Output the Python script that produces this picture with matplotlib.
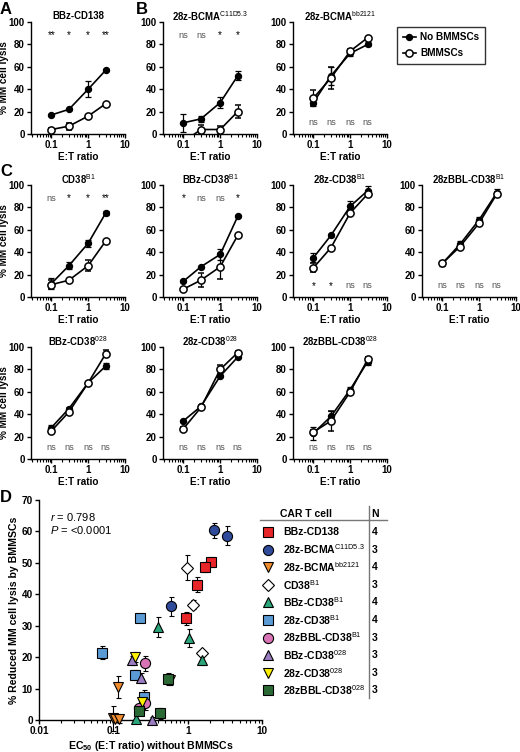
import matplotlib.pyplot as plt
from matplotlib.lines import Line2D
from matplotlib.ticker import FixedLocator, LogLocator, NullFormatter

plt.rcParams['font.family'] = ['Liberation Sans', 'DejaVu Sans']
plt.rcParams['mathtext.fontset'] = 'custom'
plt.rcParams['mathtext.rm'] = 'Liberation Sans'
plt.rcParams['mathtext.it'] = 'Liberation Sans:italic'
plt.rcParams['mathtext.bf'] = 'Liberation Sans:bold'

# ---- data ----
et_ratio = [0.1, 0.3, 1, 3]

car_names = ['BBz-CD138', r'28z-BCMA$^{\mathrm{C11D5.3}}$', r'28z-BCMA$^{\mathrm{bb2121}}$',
             r'CD38$^{\mathrm{B1}}$', r'BBz-CD38$^{\mathrm{B1}}$', r'28z-CD38$^{\mathrm{B1}}$',
             r'28zBBL-CD38$^{\mathrm{B1}}$', r'BBz-CD38$^{\mathrm{028}}$',
             r'28z-CD38$^{\mathrm{028}}$', r'28zBBL-CD38$^{\mathrm{028}}$']
car_n = [4, 3, 4, 3, 4, 4, 3, 3, 3, 3]

sig_labels = [['**', '*', '*', '**'], ['ns', 'ns', '*', '*'], ['ns'] * 4,
              ['ns', '*', '*', '**'], ['*', 'ns', 'ns', '*'], ['*', '*', 'ns', 'ns'],
              ['ns'] * 4, ['ns'] * 4, ['ns'] * 4, ['ns'] * 4]

# % MM cell lysis, no BMMSCs
no_bm = [[17, 22, 40, 57], [10, 13.5, 28, 52], [28, 52, 72, 80],
         [12, 28, 48, 75], [14, 27, 38, 72], [35, 55, 81, 95],
         [30, 47, 69, 93], [28, 45, 68, 83], [34, 47, 74, 91], [23, 38, 62, 87]]
no_bm_err = [[1, 1, 7, 1], [8, 3, 5, 4], [3, 8, 2, 1],
             [5, 3, 3, 2], [1, 1, 5, 1], [4, 1, 5, 4],
             [2, 3, 2, 3], [2, 1, 1, 3], [1, 1, 1, 1], [6, 5, 2, 3]]
# % MM cell lysis, with BMMSCs
with_bm = [[4, 7, 16, 27], [-7, 4, 4, 20], [32, 50, 74, 86],
           [11, 15, 28, 50], [7, 15, 27, 55], [26, 44, 75, 92],
           [30, 45, 66, 92], [25, 42, 68, 94], [27, 46, 80, 95], [24, 34, 60, 89]]
with_bm_err = [[1, 3, 1, 1], [2, 4, 3, 6], [7, 10, 2, 1],
               [4, 1, 5, 1], [1, 6, 11, 1], [4, 1, 3, 1],
               [1, 2, 1, 1], [2, 1, 1, 3], [2, 1, 4, 1], [2, 9, 2, 2]]

# panel D: EC50 without BMMSCs vs % reduced lysis
ec50 = [[2.09, 1.70, 1.35, 0.94], [2.27, 3.35, 0.60], [0.116, 0.098, 0.105, 0.118],
        [0.97, 1.17, 1.56], [0.40, 1.03, 1.56, 0.20], [0.23, 0.071, 0.198, 0.256],
        [0.27, 0.265, 0.22], [0.179, 0.237, 0.33], [0.194, 0.577, 0.244],
        [0.54, 0.22, 0.42]]
reduction = [[50.3, 48.7, 43.1, 32.3], [60.3, 58.7, 36.2], [10.4, 0.5, 0.3, 0.2],
             [48.4, 36.7, 21.4], [29.6, 26.1, 19.0, 0.2], [32.3, 21.4, 14.3, 7.4],
             [18.0, 5.3, 3.7], [19.0, 13.4, 0.0], [20.1, 12.7, 5.6],
             [13.0, 3.0, 2.1]]
reduction_err = [[1.5, 1.5, 2.5, 2], [2.5, 3, 3], [3.5, 4, 1, 1],
                 [4, 1.5, 1], [3.2, 3, 1.5, 1], [1, 2, 1.5, 2],
                 [2.5, 2, 1.5], [1.5, 1.5, 1], [1.5, 1.5, 1.5],
                 [2, 1.5, 1.8]]

# ---- styles ----
car_colors = ['#E8262A', '#2F4B9A', '#F08C2E', 'white', '#2BA57A', '#5B9BD5',
              '#D873B5', '#9A7CC0', '#FFF000', '#2C6A35']
car_markers = ['s', 'o', 'v', 'D', '^', 's', 'o', '^', 'v', 's']

W, H = 520, 752
fig = plt.figure(figsize=(W / 100, H / 100), dpi=100)


def px_axes(left, top, width, height):
    return fig.add_axes([left / W, 1 - (top + height) / H, width / W, height / H])


def style_axes(ax, fs=7):
    for s in ['top', 'right']:
        ax.spines[s].set_visible(False)
    for s in ['left', 'bottom']:
        ax.spines[s].set_linewidth(1.0)
    ax.tick_params(which='major', length=3, width=1, labelsize=fs, pad=1.5)
    ax.tick_params(which='minor', length=1.8, width=0.8)
    for lab in ax.get_xticklabels() + ax.get_yticklabels():
        lab.set_fontweight('bold')


# ---- panels A-C: lysis curves ----
col_x = [31, 163, 293, 422]
row_top = [22, 185, 347]
panel_pos = [(0, 0), (1, 0), (2, 0), (0, 1), (1, 1), (2, 1), (3, 1), (0, 2), (1, 2), (2, 2)]
sig_y = [88, 88, 10, 88, 88, 10, 10, 10, 10, 10]

for i, (c, r) in enumerate(panel_pos):
    ax = px_axes(col_x[c], row_top[r], 94, 112)
    ax.set_xscale('log')
    ax.errorbar(et_ratio, no_bm[i], yerr=no_bm_err[i], fmt='-o', color='black',
                mfc='black', mec='black', ms=4.3, lw=1.2, elinewidth=0.9,
                capsize=2, capthick=0.9, zorder=3)
    ax.errorbar(et_ratio, with_bm[i], yerr=with_bm_err[i], fmt='-o', color='black',
                mfc='white', mec='black', ms=5.2, mew=1.1, lw=1.2, elinewidth=0.9,
                capsize=2, capthick=0.9, zorder=4)
    ax.set_xlim(0.028, 10)
    ax.set_ylim(0, 100)
    ax.set_yticks([0, 20, 40, 60, 80, 100])
    ax.xaxis.set_major_locator(FixedLocator([0.1, 1, 10]))
    ax.set_xticklabels(['0.1', '1', '10'])
    ax.xaxis.set_minor_locator(LogLocator(base=10, subs=range(2, 10)))
    ax.xaxis.set_minor_formatter(NullFormatter())
    style_axes(ax)
    ax.set_xlabel('E:T ratio', fontsize=7.2, fontweight='bold', labelpad=1)
    if c == 0:
        ax.set_ylabel('% MM cell lysis', fontsize=7.2, fontweight='bold', labelpad=0)
    ax.text(0.5, 1.05, car_names[i], transform=ax.transAxes, ha='center', va='center',
            fontsize=6.9, fontweight='bold')
    for x, lab in zip(et_ratio, sig_labels[i]):
        ax.text(x, sig_y[i], lab, ha='center', va='center',
                fontsize=6.6 if lab == 'ns' else 7.2,
                color='#555555' if lab == 'ns' else 'black')

legend_handles = [
    Line2D([], [], color='black', marker='o', mfc='black', mec='black', ms=4.3, lw=1.2),
    Line2D([], [], color='black', marker='o', mfc='white', mec='black', ms=5.2, mew=1.1, lw=1.2),
]
leg = fig.legend(legend_handles, ['No BMMSCs', 'BMMSCs'], loc='upper left',
                 bbox_to_anchor=(397 / W, 1 - 27 / H), frameon=True, fancybox=False,
                 edgecolor='black', prop=dict(weight='bold', size=7.2),
                 handlelength=1.3, handletextpad=0.5, borderpad=0.55, labelspacing=0.55,
                 borderaxespad=0)
leg.get_frame().set_linewidth(1.0)

# ---- panel D ----
axd = px_axes(39, 500, 223, 220)
axd.set_xscale('log')
for k in range(len(car_names)):
    axd.errorbar(ec50[k], reduction[k], yerr=reduction_err[k], fmt=car_markers[k],
                 mfc=car_colors[k], mec='black', ms=7.3 if car_markers[k] != 'D' else 6.2,
                 mew=0.8, ecolor='black', elinewidth=0.8, capsize=1.8, capthick=0.8,
                 ls='none', clip_on=False, zorder=3)
axd.set_xlim(0.01, 10)
axd.set_ylim(0, 70)
axd.set_yticks(range(0, 71, 10))
axd.xaxis.set_major_locator(FixedLocator([0.01, 0.1, 1, 10]))
axd.set_xticklabels(['0.01', '0.1', '1', '10'])
axd.xaxis.set_minor_locator(LogLocator(base=10, subs=range(2, 10)))
axd.xaxis.set_minor_formatter(NullFormatter())
style_axes(axd, fs=7.2)
axd.set_xlabel(r'EC$_{\mathbf{50}}$ (E:T ratio) without BMMSCs', fontsize=7.6,
               fontweight='bold', labelpad=2)
axd.set_ylabel('% Reduced MM cell lysis by BMMSCs', fontsize=7.6, fontweight='bold',
               labelpad=1.5)
fig.text(50 / W, 1 - 517 / H, r'$r$ = 0.798', fontsize=8, va='center')
fig.text(50 / W, 1 - 530 / H, r'$P$ = <0.0001', fontsize=8, va='center')

# ---- table legend for D ----
tab = fig.add_axes([0, 0, 1, 1])
tab.set_xlim(0, W)
tab.set_ylim(H, 0)
tab.axis('off')
tab.text(306, 514, 'CAR T cell', ha='center', va='center', fontsize=7.5, fontweight='bold')
tab.text(375, 514, 'N', ha='center', va='center', fontsize=7.5, fontweight='bold')
tab.plot([260, 387], [520, 520], color='#777777', lw=1)
tab.plot([369, 369], [506, 698], color='#777777', lw=1)
for k, name in enumerate(car_names):
    yy = 532 + k * 17.6
    tab.plot(268, yy, marker=car_markers[k], mfc=car_colors[k], mec='black',
             ms=7.3 if car_markers[k] != 'D' else 6.2, mew=0.8)
    tab.text(283, yy, name, ha='left', va='center', fontsize=7.5, fontweight='bold')
    tab.text(375, yy, str(car_n[k]), ha='center', va='center', fontsize=7.5,
             fontweight='bold')

# ---- panel letters ----
for letter, (x, y) in zip('ABCD', [(6, 10), (142, 10), (6, 172), (6, 497)]):
    fig.text(x / W, 1 - y / H, letter, fontsize=12, fontweight='bold', ha='center',
             va='center')

fig.savefig('out.png', dpi=100)
